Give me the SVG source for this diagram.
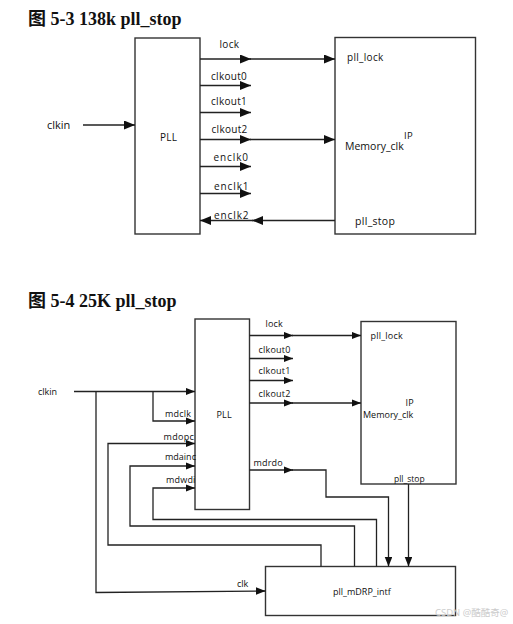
<svg xmlns="http://www.w3.org/2000/svg" width="513" height="624" viewBox="0 0 513 624">
<defs>
<marker id="ah" markerUnits="userSpaceOnUse" markerWidth="12" markerHeight="10" refX="11" refY="4.5" orient="auto"><path d="M0,0 L11,4.5 L0,9 z" fill="#111"/></marker>
<marker id="as" markerUnits="userSpaceOnUse" markerWidth="10" markerHeight="8" refX="9.5" refY="3.75" orient="auto"><path d="M0,0 L9.5,3.75 L0,7.5 z" fill="#111"/></marker>
<style>
.box{fill:#fff;stroke:#333;stroke-width:1.4}
.ln{fill:none;stroke:#222;stroke-width:1.3}
.a{marker-end:url(#ah)}
.s{marker-end:url(#as)}
.t{font-family:"Open Sans","Noto Sans",sans-serif;font-size:10px;fill:#111;letter-spacing:0.3px}
.b{font-family:"Open Sans","Noto Sans",sans-serif;font-size:9px;fill:#111;letter-spacing:0.2px}
.title{font-family:"Liberation Serif","Noto Sans CJK SC",serif;font-size:18px;font-weight:bold;fill:#111}
</style>
</defs>
<rect width="513" height="624" fill="#fff"/>
<text class="title" x="28" y="25">图 5-3 138k pll_stop</text>
<text class="title" x="28" y="307">图 5-4 25K pll_stop</text>

<g id="pll1"><rect class="box" x="135" y="38" width="65" height="196"/><text class="t" x="160" y="140.5">PLL</text></g>
<g id="ip1"><rect class="box" x="335" y="37.5" width="140.5" height="196.5"/>
<text class="t" x="347" y="61">pll_lock</text>
<text class="t" x="404" y="139" style="font-size:9.5px">IP</text>
<text class="t" x="345" y="150" style="font-size:10.5px;letter-spacing:0">Memory_clk</text>
<text class="t" x="355" y="224.5" style="font-size:10.5px">pll_stop</text></g>

<g id="conn1">
<line class="ln a" x1="83" y1="125" x2="135" y2="125"/>
<line class="ln a" x1="200" y1="59" x2="251" y2="59"/>
<line class="ln a" x1="250" y1="59" x2="335" y2="59"/>
<line class="ln a" x1="200" y1="85.5" x2="251" y2="85.5"/>
<line class="ln a" x1="200" y1="112.5" x2="251" y2="112.5"/>
<line class="ln a" x1="200" y1="139.5" x2="251" y2="139.5"/>
<line class="ln a" x1="250" y1="139.5" x2="335" y2="139.5"/>
<line class="ln a" x1="200" y1="166.5" x2="251" y2="166.5"/>
<line class="ln a" x1="200" y1="193.5" x2="251" y2="193.5"/>
<line class="ln a" x1="335" y1="220.5" x2="252" y2="220.5"/>
<line class="ln a" x1="253" y1="220.5" x2="200" y2="220.5"/>
</g>
<g id="labels1">
<text class="t" x="47" y="129" style="font-size:11px;letter-spacing:0">clkin</text>
<text class="t" x="219.5" y="47.5">lock</text>
<text class="t" x="211" y="80">clkout0</text>
<text class="t" x="211" y="105">clkout1</text>
<text class="t" x="211.5" y="132.5">clkout2</text>
<text class="t" x="213.5" y="161" style="letter-spacing:0.9px">enclk0</text>
<text class="t" x="214" y="190" style="letter-spacing:0.9px">enclk1</text>
<text class="t" x="214" y="218.5" style="letter-spacing:0.9px">enclk2</text>
</g>

<g id="pll2"><rect class="box" x="195" y="319" width="54.5" height="190.5"/><text class="b" x="216.5" y="418">PLL</text></g>
<g id="ip2"><rect class="box" x="361" y="321.5" width="95" height="162.5"/>
<text class="b" x="370.5" y="339">pll_lock</text>
<text class="b" x="405.5" y="406">IP</text>
<text class="b" x="363" y="418" style="letter-spacing:0">Memory_clk</text>
<text class="b" x="394" y="482" style="font-size:8.5px;letter-spacing:0">pll_stop</text></g>
<g id="mdrp"><rect class="box" x="265.5" y="566.5" width="190" height="49"/><text class="b" x="333" y="595" style="letter-spacing:0">pll_mDRP_intf</text></g>

<g id="conn2">
<line class="ln s" x1="74" y1="391.5" x2="195" y2="391.5"/>
<polyline class="ln s" points="153,391.5 153,421 195,421"/>
<polyline class="ln s" points="96,391.5 96,592.5 265.5,591"/>
<polyline class="ln s" points="321,566.5 321,545 108,545 108,443.5 195,443.5"/>
<polyline class="ln s" points="354.5,566.5 354.5,526 130,526 130,466 195,466"/>
<polyline class="ln s" points="376.5,566.5 376.5,519.5 153,519.5 153,488 195,488"/>
<line class="ln s" x1="249.5" y1="335.5" x2="293" y2="335.5"/>
<line class="ln s" x1="292" y1="335.5" x2="361" y2="335.5"/>
<line class="ln s" x1="249.5" y1="358.5" x2="293" y2="358.5"/>
<line class="ln s" x1="249.5" y1="380.5" x2="293" y2="380.5"/>
<line class="ln s" x1="249.5" y1="403" x2="293" y2="403"/>
<line class="ln s" x1="292" y1="403" x2="361" y2="403"/>
<line class="ln s" x1="249.5" y1="470" x2="293" y2="470"/>
<polyline class="ln s" points="292,470 326,470 326,497 388.5,497 388.5,566.5"/>
<line class="ln s" x1="408.5" y1="484" x2="408.5" y2="566.5"/>
</g>
<g id="labels2">
<text class="b" x="38" y="395" style="letter-spacing:0">clkin</text>
<text class="b" x="265.5" y="327">lock</text>
<text class="b" x="258.5" y="353">clkout0</text>
<text class="b" x="258.5" y="374">clkout1</text>
<text class="b" x="258.5" y="397">clkout2</text>
<text class="b" x="253.5" y="466">mdrdo</text>
<text class="b" x="165" y="417">mdclk</text>
<text class="b" x="163.5" y="440" style="letter-spacing:0.3px">mdopc</text>
<text class="b" x="165" y="460" style="letter-spacing:0">mdainc</text>
<text class="b" x="166" y="483" style="letter-spacing:0.2px">mdwdi</text>
<text class="b" x="237" y="587" style="letter-spacing:0">clk</text>
</g>
<text x="435" y="616" style="font-family:'Open Sans','Noto Sans CJK SC',sans-serif;font-size:9.5px;fill:#ccc">CSDN @酷酷奇@</text>
</svg>
